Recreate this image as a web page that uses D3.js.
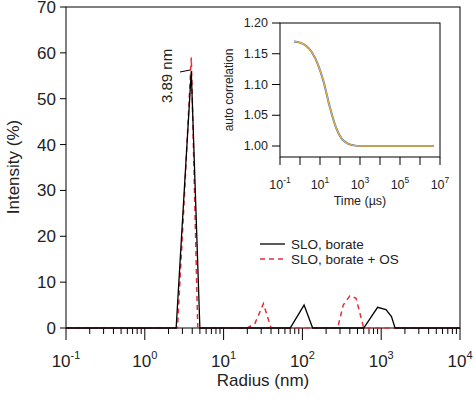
<!DOCTYPE html><html><head><script src="https://cdn.jsdelivr.net/npm/d3@7"></script>
<style>body{margin:0;background:#fff}text{font-family:Arial,"Liberation Sans",sans-serif}</style></head><body>
<svg id="c" width="474" height="404"></svg>
<script>
const blackX=[0.1,2.5,3.89,5.0,70,105,135,600,900,1150,1350,1500,10000];
const blackY=[0,0,56,0,0,5,0,0,4.5,4,2.5,0,0];
const redX=[0.1,2.6,3.1,3.89,4.7,20,25,32,40,280,330,400,480,600,10000];
const redY=[0,0,25,59,0,0,1,5.3,0,0,5,7,6.5,0,0];
const acX=[0.5,1,2,4,8,15,30,60,120,250,500,1000,1e4,1e5,1e6,5e6];
const acY=[1.170,1.168,1.163,1.152,1.132,1.105,1.065,1.032,1.012,1.004,1.001,1.0,1.0,1.0,1.0,1.0];
const yTicks=[0,10,20,30,40,50,60,70];
const xTickExp=[-1,0,1,2,3,4];
const insetYTicks=[1.00,1.05,1.10,1.15,1.20];
const insetXExp=[-1,1,3,5,7];
const svg=d3.select("#c");
const x=d3.scaleLog().domain([0.1,1e4]).range([66,460]);
const y=d3.scaleLinear().domain([0,70]).range([328,7]);
const g=svg.append("g");
g.append("rect").attr("x",66).attr("y",7).attr("width",394).attr("height",321).attr("fill","none").attr("stroke","#000");
yTicks.forEach(t=>{g.append("line").attr("x1",60).attr("x2",66).attr("y1",y(t)).attr("y2",y(t)).attr("stroke","#000");
g.append("text").attr("x",56).attr("y",y(t)+6).attr("text-anchor","end").attr("font-size",17).attr("fill","#222").text(t);});
for(let e=-1;e<4;e++)for(let m=1;m<10;m++){const v=m*Math.pow(10,e);g.append("line").attr("x1",x(v)).attr("x2",x(v)).attr("y1",328).attr("y2",m==1?340:334).attr("stroke","#000");}
g.append("line").attr("x1",460).attr("x2",460).attr("y1",328).attr("y2",340).attr("stroke","#000");
xTickExp.forEach(e=>{const t=g.append("text").attr("x",x(Math.pow(10,e))).attr("y",367).attr("text-anchor","middle").attr("font-size",17).attr("fill","#222");t.append("tspan").text("10");t.append("tspan").attr("dy",-8).attr("font-size",11).text(e);});
g.append("text").attr("x",263).attr("y",386).attr("text-anchor","middle").attr("font-size",17).attr("fill","#222").text("Radius (nm)");
g.append("text").attr("transform","translate(19,167) rotate(-90)").attr("text-anchor","middle").attr("font-size",17).attr("fill","#222").text("Intensity (%)");
const line=d3.line().x(d=>x(d[0])).y(d=>y(d[1]));
g.append("path").attr("d",line(redX.map((v,i)=>[v,redY[i]]))).attr("fill","none").attr("stroke","#e0303a").attr("stroke-width",1.5).attr("stroke-dasharray","5,4");
g.append("path").attr("d",line(blackX.map((v,i)=>[v,blackY[i]]))).attr("fill","none").attr("stroke","#000").attr("stroke-width",1.3);
g.append("line").attr("x1",180).attr("y1",72).attr("x2",190).attr("y2",70).attr("stroke","#000");
g.append("text").attr("transform","translate(172,103) rotate(-90)").attr("font-size",15).attr("fill","#222").text("3.89 nm");
g.append("line").attr("x1",260).attr("x2",285).attr("y1",244).attr("y2",244).attr("stroke","#000").attr("stroke-width",1.3);
g.append("line").attr("x1",260).attr("x2",285).attr("y1",259).attr("y2",259).attr("stroke","#e0303a").attr("stroke-width",1.5).attr("stroke-dasharray","5,4");
g.append("text").attr("x",291).attr("y",249).attr("font-size",13.5).attr("fill","#222").text("SLO, borate");
g.append("text").attr("x",291).attr("y",264).attr("font-size",13.5).attr("fill","#222").text("SLO, borate + OS");
const ix=d3.scaleLog().domain([0.1,1e7]).range([280,440]);
const iy=d3.scaleLinear().domain([1.0,1.2]).range([146,23]);
const ig=svg.append("g");
ig.append("rect").attr("x",280).attr("y",23).attr("width",160).attr("height",134).attr("fill","none").attr("stroke","#000");
insetYTicks.forEach(t=>{ig.append("line").attr("x1",272).attr("x2",280).attr("y1",iy(t)).attr("y2",iy(t)).attr("stroke","#000");
ig.append("text").attr("x",268).attr("y",iy(t)+4).attr("text-anchor","end").attr("font-size",12.5).attr("fill","#222").text(t.toFixed(2));});
for(let e=-1;e<=7;e++){const v=Math.pow(10,e);ig.append("line").attr("x1",ix(v)).attr("x2",ix(v)).attr("y1",157).attr("y2",165).attr("stroke","#000");}
insetXExp.forEach(e=>{const t=ig.append("text").attr("x",ix(Math.pow(10,e))).attr("y",189).attr("text-anchor","middle").attr("font-size",12.5).attr("fill","#222");t.append("tspan").text("10");t.append("tspan").attr("dy",-6).attr("font-size",8.5).text(e);});
ig.append("text").attr("x",360).attr("y",205).attr("text-anchor","middle").attr("font-size",12.5).attr("fill","#222").text("Time (µs)");
ig.append("text").attr("transform","translate(233,90) rotate(-90)").attr("text-anchor","middle").attr("font-size",12).attr("fill","#222").text("auto correlation");
const il=d3.line().x(d=>ix(d)).y((d,i)=>iy(acY[i])).curve(d3.curveMonotoneX);
ig.append("path").attr("d",il(acX)).attr("fill","none").attr("stroke","#3a6ecf").attr("stroke-width",2);
ig.append("path").attr("d",il(acX)).attr("fill","none").attr("stroke","#f0b030").attr("stroke-width",1.3);
</script></body></html>
